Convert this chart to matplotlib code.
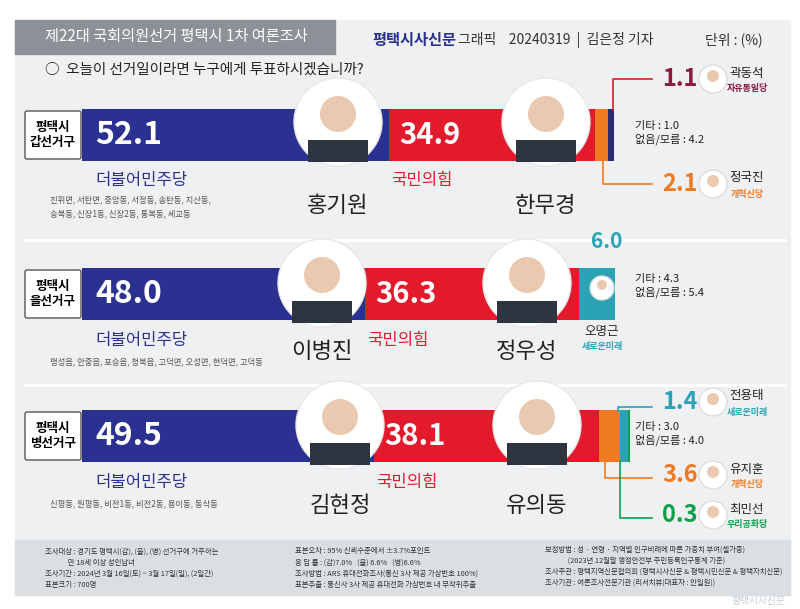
import matplotlib
matplotlib.use("Agg")
import matplotlib.pyplot as plt
from matplotlib.patches import Rectangle, Circle, FancyBboxPatch

plt.rcParams['font.family'] = ['Noto Sans CJK KR', 'Noto Sans CJK JP', 'Noto Sans CJK SC', 'DejaVu Sans']

districts = ["평택시\n갑선거구", "평택시\n을선거구", "평택시\n병선거구"]
main_blue = [52.1, 48.0, 49.5]
main_red = [34.9, 36.3, 38.1]
blue_names = ["홍기원", "이병진", "김현정"]
red_names = ["한무경", "정우성", "유의동"]
minor_vals = [[2.1, 1.1], [6.0], [3.6, 1.4, 0.3]]
minor_cols = [["#f07a22", "#2a2a70"], ["#2aa3b5"], ["#f07a22", "#2aa3b5", "#10a04a"]]
etc_vals = [1.0, 4.3, 3.0]
unknown_vals = [4.2, 5.4, 4.0]
dongs = ["진위면, 서탄면, 중앙동, 서정동, 송탄동, 지산동,\n송북동, 신장1동, 신장2동, 통복동, 세교동",
         "팽성읍, 안중읍, 포승읍, 청북읍, 고덕면, 오성면, 현덕면, 고덕동",
         "신평동, 원평동, 비전1동, 비전2동, 용이동, 동삭동"]

BLUE = "#2b3191"; RED = "#e31a2c"; ORANGE = "#f07a22"; TEAL = "#2aa3b5"; GREEN = "#10a04a"

fig = plt.figure(figsize=(8, 6.09), dpi=100)
bg = fig.add_axes([0, 0, 1, 1])
bg.set_xlim(0, 800); bg.set_ylim(609, 0); bg.axis('off')
bg.add_patch(Rectangle((0, 0), 800, 609, color="white", zorder=0))
bg.add_patch(Rectangle((15, 20), 775, 575, color="#eef0f2", zorder=0))
bg.add_patch(Rectangle((15, 540), 775, 55, color="#dcdfe2", zorder=0))
for y in (240, 385):
    bg.plot([25, 785], [y, y], color="white", lw=2, zorder=1)

bx = fig.add_axes([82/800, 0, 718/800, 1])
bx.set_xlim(0, 718/5.9); bx.set_ylim(609, 0); bx.axis('off')
bx.patch.set_alpha(0)
centers = [135, 294, 436]
for i, c in enumerate(centers):
    bx.barh(c, main_blue[i], height=52, color=BLUE, left=0)
    bx.barh(c, main_red[i], height=52, color=RED, left=main_blue[i])
    left = main_blue[i] + main_red[i]
    for v, col in zip(minor_vals[i], minor_cols[i]):
        bx.barh(c, v, height=52, color=col, left=left)
        left += v

ax = fig.add_axes([0, 0, 1, 1])
ax.set_xlim(0, 800); ax.set_ylim(609, 0); ax.axis('off')
ax.patch.set_alpha(0)

ax.add_patch(Rectangle((15, 20), 320, 34, color="#8c9197", zorder=1))
ax.text(45, 37, "제22대 국회의원선거 평택시 1차 여론조사", color="white", fontsize=11, va='center', zorder=2)
ax.text(372, 40, "평택시사신문", color="#2b3191", fontsize=11, fontweight='bold', style='italic', va='center')
ax.text(458, 40, "그래픽    20240319  |  김은정 기자", color="#333", fontsize=10, va='center')
ax.text(705, 40, "단위 : (%)", color="#333", fontsize=10, va='center')
ax.text(45, 70, "○  오늘이 선거일이라면 누구에게 투표하시겠습니까?", color="#222", fontsize=10.5, va='center')

photo_blue = [(338, 122), (322, 283), (340, 425)]
photo_red = [(546, 122), (527, 283), (537, 425)]
name_y = [205, 352, 505]
for i, c in enumerate(centers):
    ax.add_patch(FancyBboxPatch((27, c-22), 52, 44, boxstyle="round,pad=2", fc="white", ec="#555", lw=1, zorder=3))
    ax.text(53, c, districts[i], ha='center', va='center', fontsize=9, fontweight='bold', zorder=4)
    ax.text(95, c, f"{main_blue[i]:.1f}", color="white", fontsize=23, fontweight='bold', va='center', zorder=5)
    ax.text(82 + main_blue[i]*5.9 + 10, c, f"{main_red[i]:.1f}", color="white", fontsize=21, fontweight='bold', va='center', zorder=5)
    ax.text(95, c+46, "더불어민주당", color=BLUE, fontsize=12, va='center')
    ax.text(82 + main_blue[i]*5.9 + 2, c+46, "국민의힘", color=RED, fontsize=12, va='center')
    ax.text(50, c+72 if i == 0 else c+68, dongs[i], color="#555", fontsize=6, va='center', linespacing=1.8)
    for (px, py) in (photo_blue[i], photo_red[i]):
        ax.add_patch(Circle((px, py), 44, fc="white", ec="#e8e8e8", lw=1, zorder=6))
        ax.add_patch(Circle((px, py-8), 18, fc="#e9c9b0", zorder=7))
        ax.add_patch(Rectangle((px-30, py+18), 60, 22, fc="#2e3440", zorder=7))
    ax.text(photo_blue[i][0], name_y[i], blue_names[i], fontsize=16, ha='center', va='center', color="#222")
    ax.text(photo_red[i][0], name_y[i], red_names[i], fontsize=16, ha='center', va='center', color="#222")
    ax.text(635, c - 2 if i != 1 else c - 8, f"기타 : {etc_vals[i]:.1f}\n없음/모름 : {unknown_vals[i]:.1f}",
            fontsize=8, va='center', color="#222", linespacing=1.3)

def small(px, py, name, party, pcol, num, ncol, nx):
    ax.text(nx, py, num, color=ncol, fontsize=17, fontweight='bold', ha='center', va='center')
    ax.add_patch(Circle((px, py), 14, fc="white", ec="#ddd", zorder=6))
    ax.add_patch(Circle((px, py-3), 6, fc="#e9c9b0", zorder=7))
    ax.text(px+34, py-6, name, fontsize=9, ha='center', va='center', color="#222")
    ax.text(px+34, py+10, party, fontsize=6.5, ha='center', va='center', color=pcol, fontweight='bold')

ax.plot([613, 613, 652], [110, 79, 79], color=RED, lw=1.2)
ax.plot([603, 603, 652], [160, 184, 184], color=ORANGE, lw=1.2)
small(713, 79, "곽동석", "자유통일당", "#8b1a3a", "1.1", "#8b1a3a", 680)
small(713, 184, "정국진", "개혁신당", ORANGE, "2.1", ORANGE, 680)
ax.text(607, 241, "6.0", color=TEAL, fontsize=15, fontweight='bold', ha='center', va='center')
ax.add_patch(Circle((602, 288), 12, fc="white", ec="#ddd", zorder=6))
ax.add_patch(Circle((602, 285), 5, fc="#e9c9b0", zorder=7))
ax.text(602, 332, "오명근", fontsize=9, ha='center', va='center', color="#222")
ax.text(602, 347, "새로운미래", fontsize=6.5, ha='center', va='center', color=TEAL, fontweight='bold')
ax.plot([618, 618, 652], [411, 407, 407], color=TEAL, lw=1.2)
ax.plot([605, 605, 652], [462, 478, 478], color=ORANGE, lw=1.2)
ax.plot([620, 620, 652], [462, 518, 518], color=GREEN, lw=1.2)
small(713, 402, "전용태", "새로운미래", TEAL, "1.4", TEAL, 680)
small(713, 475, "유지훈", "개혁신당", ORANGE, "3.6", ORANGE, 680)
small(713, 515, "최민선", "우리공화당", GREEN, "0.3", GREEN, 680)

fs = 5.3
ax.text(45, 568, "조사대상 : 경기도 평택시(갑), (을), (병) 선거구에 거주하는\n              만 18세 이상 성인남녀\n조사기간 : 2024년 3월 16일(토) ~ 3월 17일(일), (2일간)\n표본크기 : 700명",
        fontsize=fs, va='center', color="#333", linespacing=1.5)
ax.text(295, 568, "표본오차 : 95% 신뢰수준에서 ±3.7%포인트\n응 답 률 : (갑)7.0%   (을) 6.6%   (병)6.6%\n조사방법 : ARS 휴대전화조사(통신 3사 제공 가상번호 100%)\n표본추출 : 통신사 3사 제공 휴대전화 가상번호 내 무작위추출",
        fontsize=fs, va='center', color="#333", linespacing=1.5)
ax.text(545, 566, "보정방법 : 성 · 연령 · 지역별 인구비례에 따른 가중치 부여(셀가중)\n              (2023년 12월말 행정안전부 주민등록인구통계 기준)\n조사주관 : 평택지역신문협의회 (평택시사신문 & 평택시민신문 & 평택자치신문)\n조사기관 : 여론조사전문기관 (리서치뷰(대표자 : 안일원))",
        fontsize=fs, va='center', color="#333", linespacing=1.5)
ax.text(785, 601, "평택시사신문", fontsize=7, ha='right', va='center', color="#c8ccd0")

fig.savefig("out.png", dpi=100)
